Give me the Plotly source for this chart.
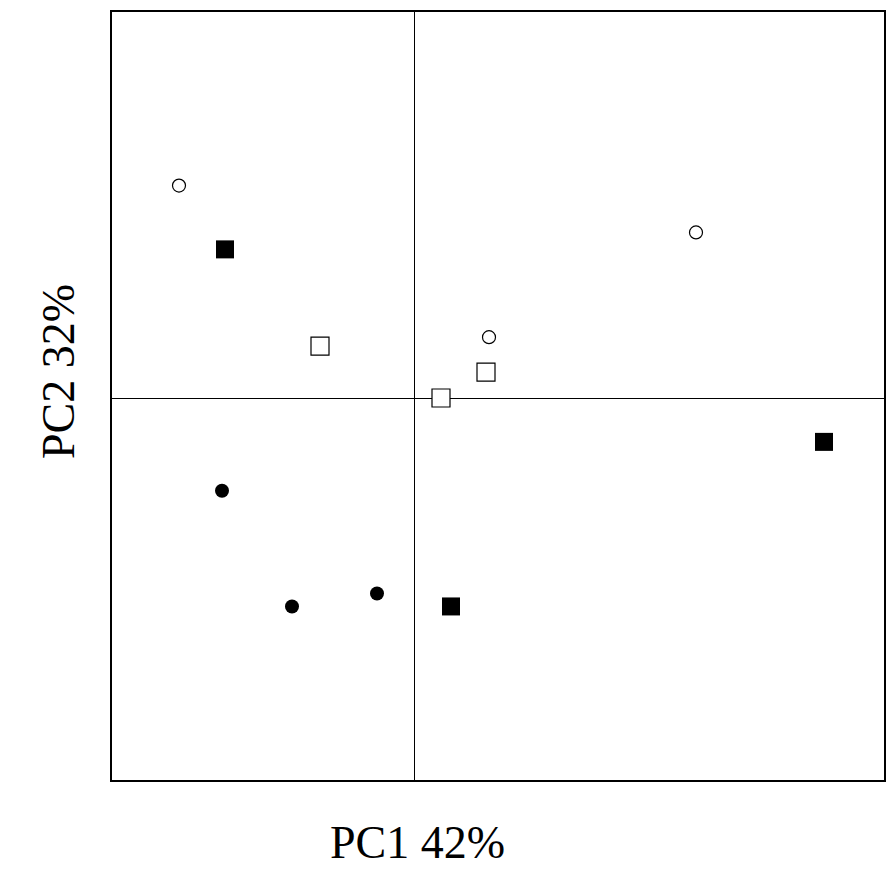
import plotly.graph_objects as go

# PCA scores (PC1, PC2)
open_circle_x = [-2.35, 2.82, 0.75]
open_circle_y = [2.14, 1.67, 0.62]
filled_square_x = [-1.89, 4.10, 0.37]
filled_square_y = [1.50, -0.43, -2.08]
open_square_x = [-0.94, 0.72, 0.27]
open_square_y = [0.53, 0.27, 0.01]
filled_circle_x = [-1.92, -1.22, -0.37]
filled_circle_y = [-0.92, -2.08, -1.95]

x_title = "PC1 42%"
y_title = "PC2 32%"

fig = go.Figure()
fig.add_trace(go.Scatter(x=open_circle_x, y=open_circle_y, mode="markers",
                         marker=dict(symbol="circle-open", size=13, color="black", line=dict(width=1.2))))
fig.add_trace(go.Scatter(x=filled_square_x, y=filled_square_y, mode="markers",
                         marker=dict(symbol="square", size=18, color="black", line=dict(width=0))))
fig.add_trace(go.Scatter(x=open_square_x, y=open_square_y, mode="markers",
                         marker=dict(symbol="square", size=18, color="white", line=dict(width=1.2, color="black"))))
fig.add_trace(go.Scatter(x=filled_circle_x, y=filled_circle_y, mode="markers",
                         marker=dict(symbol="circle", size=14, color="black", line=dict(width=0))))

fig.update_xaxes(range=[-3.02, 4.70], showticklabels=False, ticks="", showgrid=False,
                 zeroline=True, zerolinecolor="black", zerolinewidth=1.2,
                 showline=True, linecolor="black", linewidth=2, mirror=True)
fig.update_yaxes(range=[-3.82, 3.88], showticklabels=False, ticks="", showgrid=False,
                 zeroline=True, zerolinecolor="black", zerolinewidth=1.2,
                 showline=True, linecolor="black", linewidth=2, mirror=True)

fig.add_annotation(text=x_title, xref="paper", yref="paper", x=(417 - 112) / 772, y=-(843 - 780) / 770,
                   showarrow=False, font=dict(family="Liberation Serif", size=46, color="black"),
                   xanchor="center", yanchor="middle")
fig.add_annotation(text=y_title, xref="paper", yref="paper", x=-(112 - 58) / 772, y=(780 - 371) / 770,
                   textangle=-90, showarrow=False, font=dict(family="Liberation Serif", size=46, color="black"),
                   xanchor="center", yanchor="middle")

fig.update_layout(width=896, height=874, margin=dict(l=112, r=12, t=10, b=94),
                  paper_bgcolor="white", plot_bgcolor="white", showlegend=False)

fig.write_html("out.html")
